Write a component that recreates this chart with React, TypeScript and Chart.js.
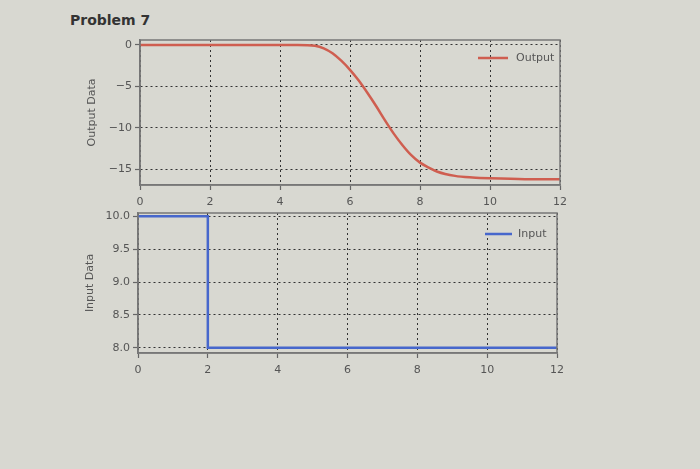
import React, { useEffect, useRef } from "react";
import { Chart, registerables } from "chart.js";

Chart.register(...registerables);

const TITLE = "Problem 7";
const X_TICKS = [0, 2, 4, 6, 8, 10, 12];

const OUTPUT_LABEL = "Output";
const OUTPUT_X = [0, 1, 2, 3, 4, 4.5, 5, 5.25, 5.5, 5.75, 6, 6.25, 6.5, 6.75, 7, 7.25, 7.5, 7.75, 8, 8.25, 8.5, 9, 9.5, 10, 11, 12];
const OUTPUT_Y = [0, 0, 0, 0, 0, 0, -0.1, -0.4, -1.0, -1.9, -3.0, -4.3, -5.8, -7.4, -9.1, -10.7, -12.1, -13.3, -14.2, -14.8, -15.3, -15.8, -16.0, -16.1, -16.2, -16.2];
const OUTPUT_Y_TICKS = [0, -5, -10, -15];

const INPUT_LABEL = "Input";
const INPUT_X = [0, 2, 2, 12];
const INPUT_Y = [10, 10, 8, 8];
const INPUT_Y_TICKS = [10.0, 9.5, 9.0, 8.5, 8.0];

const BG = "#d8d8d1";
const FONT = "'DejaVu Sans', sans-serif";
const TEXT = "#555";

const framePlugin = {
  id: "frameAndLegend",
  afterDraw(chart: any) {
    const { ctx, chartArea } = chart;
    const o = chart.options.plugins.frameAndLegend || {};
    ctx.save();
    ctx.strokeStyle = "#777";
    ctx.lineWidth = 1.5;
    ctx.strokeRect(chartArea.left, chartArea.top, chartArea.right - chartArea.left, chartArea.bottom - chartArea.top);
    const ds = chart.data.datasets[0];
    const y = chartArea.top + (o.dy ?? 19);
    ctx.strokeStyle = ds.borderColor;
    ctx.lineWidth = 2.5;
    ctx.beginPath();
    ctx.moveTo(chartArea.right - (o.lineStart ?? 80), y);
    ctx.lineTo(chartArea.right - (o.lineEnd ?? 52), y);
    ctx.stroke();
    ctx.fillStyle = TEXT;
    ctx.font = `11px ${FONT}`;
    ctx.textBaseline = "middle";
    ctx.textAlign = "left";
    ctx.fillText(ds.label, chartArea.right - (o.textStart ?? 44), y);
    ctx.restore();
  },
};

function makeConfig(
  label: string,
  xs: number[],
  ys: number[],
  color: string,
  yTicks: number[],
  yMin: number,
  yMax: number,
  yTitle: string,
  padding: any,
  legend: any,
  smooth: boolean,
  fmt: (v: number) => string
): any {
  return {
    type: "line",
    data: {
      datasets: [
        {
          label,
          data: xs.map((x, i) => ({ x, y: ys[i] })),
          borderColor: color,
          borderWidth: 2.5,
          pointRadius: 0,
          fill: false,
          cubicInterpolationMode: smooth ? "monotone" : "default",
          tension: 0,
        },
      ],
    },
    options: {
      responsive: false,
      animation: false,
      layout: { padding },
      plugins: {
        legend: { display: false },
        tooltip: { enabled: false },
        frameAndLegend: legend,
      },
      scales: {
        x: {
          type: "linear",
          min: 0,
          max: 12,
          afterBuildTicks: (s: any) => {
            s.ticks = X_TICKS.map((v) => ({ value: v }));
          },
          afterFit: (s: any) => {
            s.height = 30;
          },
          ticks: { color: TEXT, font: { family: FONT, size: 11 }, padding: 6, maxRotation: 0 },
          grid: { color: "#333", lineWidth: 1, tickColor: "#666", tickLength: 5, tickWidth: 1.2 },
          border: { color: "#777", width: 1.5, dash: [2, 3] },
        },
        y: {
          type: "linear",
          min: yMin,
          max: yMax,
          afterBuildTicks: (s: any) => {
            s.ticks = yTicks.map((v) => ({ value: v }));
          },
          afterFit: (s: any) => {
            s.width = 58;
          },
          ticks: {
            color: TEXT,
            font: { family: FONT, size: 11 },
            padding: 3,
            callback: (v: any) => fmt(Number(v)),
          },
          title: { display: true, text: yTitle, color: TEXT, font: { family: FONT, size: 11 }, padding: 4 },
          grid: { color: "#333", lineWidth: 1, tickColor: "#666", tickLength: 5, tickWidth: 1.2 },
          border: { color: "#777", width: 1.5, dash: [2, 3] },
        },
      },
    },
    plugins: [framePlugin],
  };
}

export default function App() {
  const topRef = useRef<HTMLCanvasElement>(null);
  const botRef = useRef<HTMLCanvasElement>(null);

  useEffect(() => {
    const top = new Chart(
      topRef.current!,
      makeConfig(
        OUTPUT_LABEL,
        OUTPUT_X,
        OUTPUT_Y,
        "#cf5e50",
        OUTPUT_Y_TICKS,
        -16.9,
        0.6,
        "Output Data",
        { left: 82, right: 140, top: 40, bottom: 254 },
        { dy: 18, lineStart: 82, lineEnd: 52, textStart: 44 },
        true,
        (v) => (v < 0 ? "\u2212" + String(-v) : String(v))
      )
    );
    const bot = new Chart(
      botRef.current!,
      makeConfig(
        INPUT_LABEL,
        INPUT_X,
        INPUT_Y,
        "#4767cc",
        INPUT_Y_TICKS,
        7.92,
        10.05,
        "Input Data",
        { left: 80, right: 143, top: 213, bottom: 86 },
        { dy: 21, lineStart: 72, lineEnd: 45, textStart: 39 },
        false,
        (v) => v.toFixed(1)
      )
    );
    return () => {
      top.destroy();
      bot.destroy();
    };
  }, []);

  return (
    <div style={{ position: "fixed", left: 0, top: 0, width: 700, height: 469, background: BG, overflow: "hidden" }}>
      <div
        style={{
          position: "absolute",
          left: 70,
          top: 12,
          fontFamily: FONT,
          fontWeight: "bold",
          fontSize: 14,
          color: "#333",
          whiteSpace: "nowrap",
        }}
      >
        {TITLE}
      </div>
      <canvas ref={topRef} width={700} height={469} style={{ position: "absolute", left: 0, top: 0, width: 700, height: 469 }} />
      <canvas ref={botRef} width={700} height={469} style={{ position: "absolute", left: 0, top: 0, width: 700, height: 469 }} />
    </div>
  );
}
